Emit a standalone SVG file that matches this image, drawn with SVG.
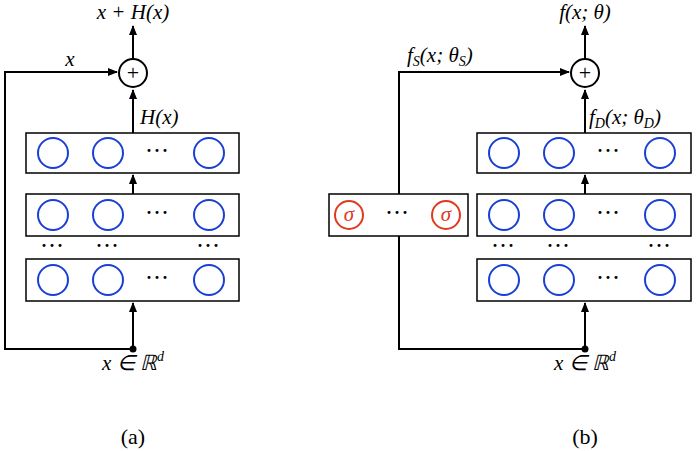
<svg xmlns="http://www.w3.org/2000/svg" width="696" height="451" viewBox="0 0 696 451">
<defs>
<marker id="ah" markerWidth="10" markerHeight="10" refX="9" refY="5" orient="auto" markerUnits="userSpaceOnUse"><path d="M0,1 L10,5 L0,9 Z" fill="#000"/></marker>
<style>
.box{fill:#fff;stroke:#000;stroke-width:1.5}
.n{fill:none;stroke:#1a3fd6;stroke-width:2}
.s{fill:none;stroke:#e03a1e;stroke-width:2}
.ln{fill:none;stroke:#000;stroke-width:2}
.t{font-family:"Liberation Serif","Times New Roman",serif;font-size:21px;font-style:italic;fill:#000}
.r{font-family:"Liberation Serif","Times New Roman",serif;font-size:22px;fill:#000}
.d{font-family:"Liberation Serif",serif;font-size:18px;font-weight:bold;letter-spacing:2px;fill:#000}
</style>
</defs>
<rect width="696" height="451" fill="#fff"/>
<g id="connectors">
<path class="ln" d="M133,133 V90" marker-end="url(#ah)"/>
<path class="ln" d="M133,194 V175" marker-end="url(#ah)"/>
<path class="ln" d="M133,349 V303" marker-end="url(#ah)"/>
<path class="ln" d="M133,59 V26" marker-end="url(#ah)"/>
<path class="ln" d="M133,349 H5 V72 H117" marker-end="url(#ah)"/>
<circle cx="133" cy="349" r="3.5"/>
<path class="ln" d="M585,133 V90" marker-end="url(#ah)"/>
<path class="ln" d="M585,194 V175" marker-end="url(#ah)"/>
<path class="ln" d="M585,349 V303" marker-end="url(#ah)"/>
<path class="ln" d="M585,59 V26" marker-end="url(#ah)"/>
<path class="ln" d="M399,194 V72 H569" marker-end="url(#ah)"/>
<path class="ln" d="M585,349 H399 V236"/>
<circle cx="585" cy="349" r="3.5"/>
</g>
<g id="plusA"><circle cx="133" cy="73" r="14" fill="#fff" stroke="#000" stroke-width="2"/><text x="133" y="80" text-anchor="middle" class="r">+</text></g>
<g id="plusB"><circle cx="585" cy="73" r="14" fill="#fff" stroke="#000" stroke-width="2"/><text x="585" y="80" text-anchor="middle" class="r">+</text></g>
<g id="layerA1"><rect class="box" x="26" y="133" width="213" height="40"/><circle class="n" cx="53" cy="153" r="15"/><circle class="n" cx="108" cy="153" r="15"/><circle class="n" cx="209" cy="153" r="15"/><text class="d" x="158" y="157" text-anchor="middle">···</text></g>
<g id="layerA2"><rect class="box" x="26" y="194" width="213" height="42"/><circle class="n" cx="53" cy="215" r="15"/><circle class="n" cx="108" cy="215" r="15"/><circle class="n" cx="209" cy="215" r="15"/><text class="d" x="158" y="219" text-anchor="middle">···</text></g>
<g id="layerA3"><rect class="box" x="26" y="259" width="213" height="42"/><circle class="n" cx="53" cy="280" r="15"/><circle class="n" cx="108" cy="280" r="15"/><circle class="n" cx="209" cy="280" r="15"/><text class="d" x="158" y="284" text-anchor="middle">···</text></g>
<g id="dotsA"><text class="d" x="53" y="252" text-anchor="middle">···</text><text class="d" x="108" y="252" text-anchor="middle">···</text><text class="d" x="209" y="252" text-anchor="middle">···</text></g>
<g id="layerB1"><rect class="box" x="477" y="133" width="214" height="40"/><circle class="n" cx="504" cy="153" r="15"/><circle class="n" cx="559" cy="153" r="15"/><circle class="n" cx="660" cy="153" r="15"/><text class="d" x="609" y="157" text-anchor="middle">···</text></g>
<g id="layerB2"><rect class="box" x="477" y="194" width="214" height="42"/><circle class="n" cx="504" cy="215" r="15"/><circle class="n" cx="559" cy="215" r="15"/><circle class="n" cx="660" cy="215" r="15"/><text class="d" x="609" y="219" text-anchor="middle">···</text></g>
<g id="layerB3"><rect class="box" x="477" y="259" width="214" height="42"/><circle class="n" cx="504" cy="280" r="15"/><circle class="n" cx="559" cy="280" r="15"/><circle class="n" cx="660" cy="280" r="15"/><text class="d" x="609" y="284" text-anchor="middle">···</text></g>
<g id="dotsB"><text class="d" x="504" y="252" text-anchor="middle">···</text><text class="d" x="559" y="252" text-anchor="middle">···</text><text class="d" x="660" y="252" text-anchor="middle">···</text></g>
<g id="sigma"><rect class="box" x="329" y="194" width="139" height="42"/><circle class="s" cx="349" cy="215" r="14"/><circle class="s" cx="446" cy="215" r="14"/><text x="349" y="221" text-anchor="middle" class="t" style="fill:#e03a1e">σ</text><text x="446" y="221" text-anchor="middle" class="t" style="fill:#e03a1e">σ</text><text class="d" x="398" y="219" text-anchor="middle">···</text></g>
<g id="labels">
<text class="t" x="133" y="19" text-anchor="middle">x + H(x)</text>
<text class="t" x="70" y="66" text-anchor="middle">x</text>
<text class="t" x="140" y="124">H(x)</text>
<text class="t" x="133" y="370" text-anchor="middle">x ∈ ℝ<tspan font-size="14" dy="-9">d</tspan></text>
<text class="r" x="133" y="444" text-anchor="middle">(a)</text>
<text class="t" x="585" y="19" text-anchor="middle">f(x; θ)</text>
<text class="t" x="407" y="62">f<tspan font-size="14" dy="4">S</tspan><tspan dy="-4">(x; θ</tspan><tspan font-size="14" dy="4">S</tspan><tspan dy="-4">)</tspan></text>
<text class="t" x="589" y="124">f<tspan font-size="14" dy="4">D</tspan><tspan dy="-4">(x; θ</tspan><tspan font-size="14" dy="4">D</tspan><tspan dy="-4">)</tspan></text>
<text class="t" x="585" y="370" text-anchor="middle">x ∈ ℝ<tspan font-size="14" dy="-9">d</tspan></text>
<text class="r" x="585" y="444" text-anchor="middle">(b)</text>
</g>
</svg>
